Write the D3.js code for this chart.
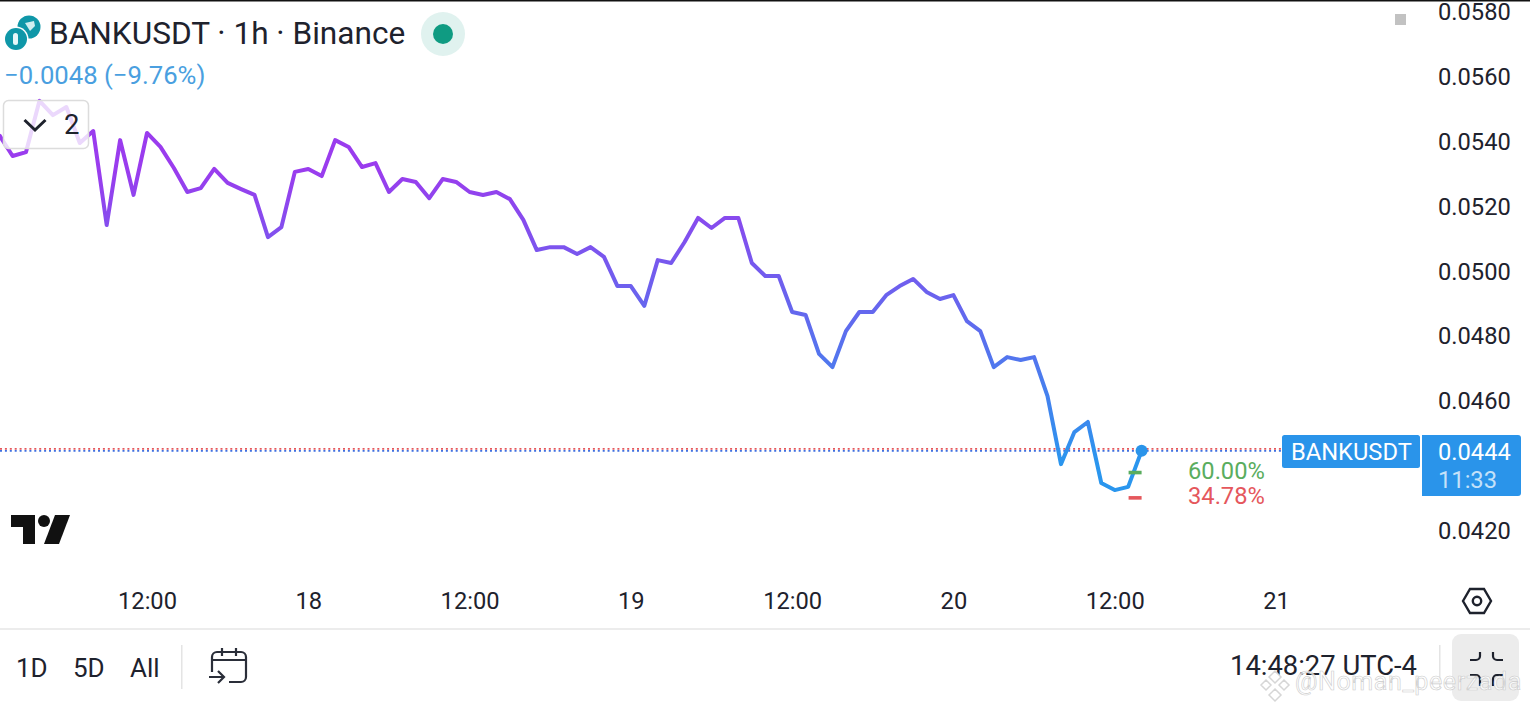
<!DOCTYPE html>
<html><head><meta charset="utf-8">
<script src="https://cdn.jsdelivr.net/npm/d3@7"></script>
<style>html,body{margin:0;padding:0;background:#fff;overflow:hidden}svg{display:block}text{font-family:Roboto,sans-serif}</style>
</head><body><svg id="c" width="1530" height="705"></svg>
<script>
// Hours counted from 00:00 on the 17th
const startHour = 1;
const prices = [
.05418,.05353,.05365,.05523,.05479,.05504,.05393,.05430,.05140,.05402,
.05233,.05424,.05381,.05316,.05242,.05254,.05313,.05270,.05251,.05233,
.05103,.05134,.05304,.05313,.05291,.05402,.05381,.05319,.05331,.05242,
.05282,.05273,.05223,.05282,.05273,.05242,.05233,.05242,.05220,.05156,
.05063,.05072,.05072,.05051,.05072,.05042,.04952,.04952,.04891,.05032,
.05023,.05088,.05162,.05131,.05162,.05162,.05023,.04983,.04983,.04872,
.04863,.04743,.04702,.04813,.04872,.04872,.04924,.04952,.04974,.04934,
.04912,.04924,.04844,.04813,.04702,.04733,.04724,.04733,.04613,.04403,
.04502,.04533,.04345,.04323,.04333,.04444];
const priceTicks = [.058,.056,.054,.052,.05,.048,.046,.042];
const timeTicks = [12,24,36,48,60,72,84,96];
const timeLabels = ["12:00","18","12:00","19","12:00","20","12:00","21"];
const lastPrice = 0.0444;
const priceLineLevel = 0.04447;
const askBid = [{label:"60.00%",value:0.04378,color:"#5aad5e"},{label:"34.78%",value:0.04300,color:"#e5575c"}];
const rangeButtons = ["1D","5D","All"];

const svg = d3.select("#c");
const x = d3.scaleLinear().domain([12,96]).range([147,1276]);
const y = d3.scaleLinear().domain([.042,.058]).range([530,11]);
const ink = "#1e222d", blue = "#2a94ea", fs = 23.7;

const defs = svg.append("defs");
const g = defs.append("linearGradient").attr("id","lg").attr("gradientUnits","userSpaceOnUse")
  .attr("x1",0).attr("x2",0).attr("y1",170).attr("y2",465);
g.append("stop").attr("offset",0).attr("stop-color","#9a3cee");
g.append("stop").attr("offset",1).attr("stop-color","#2a96ee");

svg.append("rect").attr("width",1530).attr("height",1.5).attr("fill","#111");

// price lines
const lineEnd = 1281;
svg.append("line").attr("x1",0).attr("x2",lineEnd).attr("y1",y(priceLineLevel)-1).attr("y2",y(priceLineLevel)-1)
  .attr("stroke","#e5575c").attr("stroke-width",1.7).attr("stroke-dasharray","2 2.9");
svg.append("line").attr("x1",0).attr("x2",lineEnd).attr("y1",y(priceLineLevel)+1).attr("y2",y(priceLineLevel)+1)
  .attr("stroke","#3f6fe0").attr("stroke-width",1.7).attr("stroke-dasharray","2 2.9");

const line = d3.line().x((d,i)=>x(startHour+i)).y(d=>y(d));
svg.append("path").datum(prices).attr("d",line).attr("fill","none")
  .attr("stroke","url(#lg)").attr("stroke-width",4).attr("stroke-linejoin","round");
svg.append("circle").attr("cx",x(startHour+prices.length-1)).attr("cy",y(prices[prices.length-1])).attr("r",6).attr("fill",blue);

// y axis
const ay = svg.append("g").attr("transform","translate(1438,0)")
  .call(d3.axisRight(y).tickValues(priceTicks).tickFormat(d3.format(".4f")).tickSize(0).tickPadding(0));
ay.select(".domain").remove();
ay.selectAll("text").attr("font-size",fs).attr("fill",ink).style("font-family","Roboto").attr("dy","0.36em");

// x axis
const ax = svg.append("g").attr("transform","translate(0,592)")
  .call(d3.axisBottom(x).tickValues(timeTicks).tickFormat((d,i)=>timeLabels[i]).tickSize(0).tickPadding(0));
ax.select(".domain").remove();
ax.selectAll("text").attr("font-size",fs).attr("fill",ink).style("font-family","Roboto").attr("dy","0.71em").attr("y",0);

// ask/bid marks
askBid.forEach(a=>{
  svg.append("rect").attr("x",x(startHour+prices.length-1)-13).attr("y",y(a.value)-1.5).attr("width",13).attr("height",3.6).attr("fill",a.color);
  svg.append("text").attr("x",1188).attr("y",y(a.value)-2).attr("dy","0.36em").attr("font-size",fs).attr("fill",a.color).text(a.label);
});

// tags
svg.append("rect").attr("x",1282).attr("y",435).attr("width",138).attr("height",33).attr("rx",2.5).attr("fill",blue);
svg.append("text").attr("x",1291).attr("y",460).attr("font-size",fs).attr("fill","#fff").text("BANKUSDT");
svg.append("path").attr("d","M1422 435H1518a3 3 0 0 1 3 3V493a3 3 0 0 1 -3 3H1422Z").attr("fill",blue);
svg.append("text").attr("x",1438).attr("y",460).attr("font-size",fs).attr("fill","#fff").text(d3.format(".4f")(lastPrice));
svg.append("text").attr("x",1438).attr("y",488).attr("font-size",fs).attr("fill","#c4e1f9").text("11:33");

// header
svg.append("circle").attr("cx",29).attr("cy",27).attr("r",11.5).attr("fill","#0f97a8");
svg.append("path").attr("d","M25 23l9-2 1 5-5 5z").attr("fill","#cfeef0");
svg.append("circle").attr("cx",16).attr("cy",39).attr("r",12.5).attr("fill","#fff");
svg.append("circle").attr("cx",16).attr("cy",39).attr("r",11).attr("fill","#0f97a8");
svg.append("rect").attr("x",13).attr("y",33).attr("width",5).attr("height",12).attr("rx",2.5).attr("fill","#e6f7f8");
svg.append("text").attr("x",49).attr("y",44).attr("font-size",31.6).attr("fill",ink).text("BANKUSDT · 1h · Binance");
svg.append("circle").attr("cx",443).attr("cy",34).attr("r",22).attr("fill","#e0f2ef");
svg.append("circle").attr("cx",443).attr("cy",34).attr("r",10).attr("fill","#0f9b82");
svg.append("text").attr("x",4).attr("y",84).attr("font-size",25.7).attr("fill","#4a9fe0").text("−0.0048 (−9.76%)");

// legend toggle
svg.append("rect").attr("x",3.5).attr("y",100.5).attr("width",85).attr("height",48).attr("rx",5)
  .attr("fill","#fff").attr("fill-opacity",.8).attr("stroke","#dcdcdc").attr("stroke-width",1.5);
svg.append("path").attr("d","M24.5 120l10.500 10 10.500-10").attr("fill","none").attr("stroke",ink).attr("stroke-width",3);
svg.append("text").attr("x",64).attr("y",134).attr("font-size",27.5).attr("fill",ink).text("2");

// grey square
svg.append("rect").attr("x",1395).attr("y",14).attr("width",11).attr("height",11).attr("fill","#c2c2c2");

// tv logo
svg.append("path").attr("d","M11 515H35V544H23V527H11Z").attr("fill","#111");
svg.append("circle").attr("cx",44).attr("cy",521).attr("r",6).attr("fill","#111");
svg.append("path").attr("d","M55 515H70L59 544H44Z").attr("fill","#111");

// settings hex
svg.append("path").attr("d","M1463 601l7-12h14l7 12-7 12h-14z").attr("fill","none").attr("stroke","#1e222d").attr("stroke-width",2.4);
svg.append("circle").attr("cx",1477).attr("cy",601).attr("r",4.2).attr("fill","none").attr("stroke","#1e222d").attr("stroke-width",2.4);

// toolbar
svg.append("rect").attr("x",0).attr("y",628).attr("width",1530).attr("height",2).attr("fill","#ececec");
svg.append("g").selectAll("text").data(rangeButtons).join("text")
  .attr("x",(d,i)=>[16,73,130][i]).attr("y",677).attr("font-size",26).attr("fill",ink).text(d=>d);
svg.append("rect").attr("x",181).attr("y",645).attr("width",1.5).attr("height",44).attr("fill","#e4e4e4");
svg.append("path").attr("d","M212 672V657a5 5 0 0 1 5-5H241a5 5 0 0 1 5 5V677a5 5 0 0 1-5 5H229M212 660H246M222 648V656M236 648V656M209 677H224M218 671l6 6-6 6")
  .attr("fill","none").attr("stroke","#2a2e39").attr("stroke-width",2.2);
svg.append("text").attr("x",1230).attr("y",675).attr("font-size",27.4).attr("fill",ink).text("14:48:27 UTC-4");
svg.append("rect").attr("x",1439).attr("y",645).attr("width",1.5).attr("height",44).attr("fill","#e4e4e4");
svg.append("rect").attr("x",1452).attr("y",634).attr("width",67).attr("height",67).attr("rx",9).attr("fill","#ececec");
svg.append("path").attr("d","M1480 652V656a4 4 0 0 1-4 4H1470M1493 652V656a4 4 0 0 0 4 4H1503M1470 675H1476a4 4 0 0 1 4 4V686M1503 675H1497a4 4 0 0 0-4 4V686")
  .attr("fill","none").attr("stroke","#1e222d").attr("stroke-width",2.2);

// watermark
svg.append("path").attr("d","M1275 671l6 6-6 6-6-6zM1266 680l5 5-5 5-5-5zM1284 680l5 5-5 5-5-5zM1275 689l6 6-6 6-6-6z")
  .attr("fill","#fff").attr("stroke","#d6d6d6").attr("stroke-width",1.5);
svg.append("text").attr("x",1295).attr("y",690).attr("font-size",25).attr("fill","#fff").attr("fill-opacity",.75).attr("stroke","#cccccc").attr("stroke-width",.6).attr("letter-spacing",.6).text("@Noman_peerzada");
</script></body></html>
